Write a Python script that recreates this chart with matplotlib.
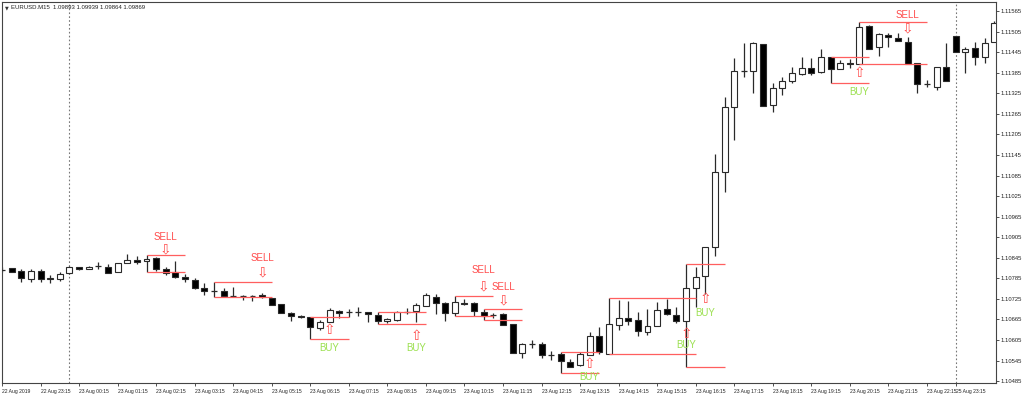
import matplotlib
matplotlib.use("Agg")
import matplotlib.pyplot as plt
from matplotlib.patches import Rectangle

plt.rcParams['font.family'] = ['Liberation Sans', 'DejaVu Sans']

# EURUSD M15 candles, 22 Aug 22:15 -> 25 Aug
opens = [1.10810, 1.10814, 1.10805, 1.10783, 1.10805, 1.10782, 1.10783, 1.10800, 1.10817, 1.10812,
         1.10820, 1.10819, 1.10803, 1.10829, 1.10838, 1.10835, 1.10844, 1.10811, 1.10803, 1.10788,
         1.10780, 1.10756, 1.10749, 1.10749, 1.10734, 1.10734, 1.10734, 1.10736, 1.10727, 1.10709,
         1.10683, 1.10676, 1.10671, 1.10641, 1.10658, 1.10690, 1.10685, 1.10686, 1.10686, 1.10677,
         1.10659, 1.10663, 1.10686, 1.10691, 1.10704, 1.10731, 1.10714, 1.10684, 1.10714, 1.10712,
         1.10688, 1.10679, 1.10680, 1.10651, 1.10568, 1.10592, 1.10592, 1.10562, 1.10563, 1.10542,
         1.10531, 1.10561, 1.10617, 1.10564, 1.10649, 1.10668, 1.10663, 1.10627, 1.10647, 1.10695,
         1.10678, 1.10661, 1.10756, 1.10793, 1.10877, 1.11096, 1.11286, 1.11390, 1.11390, 1.11470,
         1.11292, 1.11340, 1.11361, 1.11381, 1.11398, 1.11386, 1.11430, 1.11396, 1.11414, 1.11410,
         1.11521, 1.11459, 1.11495, 1.11485, 1.11475, 1.11412, 1.11352, 1.11344, 1.11403, 1.11493,
         1.11445, 1.11456, 1.11432, 1.11475]
highs = [1.10818, 1.10815, 1.10811, 1.10811, 1.10811, 1.10795, 1.10803, 1.10821, 1.10819, 1.10820,
         1.10833, 1.10827, 1.10831, 1.10856, 1.10851, 1.10853, 1.10846, 1.10819, 1.10836, 1.10798,
         1.10785, 1.10770, 1.10773, 1.10756, 1.10761, 1.10736, 1.10736, 1.10741, 1.10728, 1.10710,
         1.10688, 1.10678, 1.10673, 1.10664, 1.10698, 1.10693, 1.10696, 1.10700, 1.10687, 1.10687,
         1.10670, 1.10690, 1.10698, 1.10714, 1.10741, 1.10738, 1.10717, 1.10732, 1.10725, 1.10715,
         1.10695, 1.10683, 1.10683, 1.10651, 1.10595, 1.10606, 1.10599, 1.10574, 1.10569, 1.10550,
         1.10571, 1.10629, 1.10644, 1.10728, 1.10723, 1.10720, 1.10688, 1.10695, 1.10717, 1.10724,
         1.10702, 1.10827, 1.10819, 1.10876, 1.11147, 1.11315, 1.11427, 1.11471, 1.11475, 1.11470,
         1.11354, 1.11373, 1.11403, 1.11430, 1.11427, 1.11453, 1.11430, 1.11422, 1.11424, 1.11534,
         1.11524, 1.11502, 1.11502, 1.11502, 1.11490, 1.11412, 1.11364, 1.11401, 1.11471, 1.11493,
         1.11461, 1.11475, 1.11485, 1.11537]
lows = [1.10803, 1.10802, 1.10775, 1.10775, 1.10775, 1.10772, 1.10776, 1.10799, 1.10809, 1.10811,
        1.10813, 1.10800, 1.10803, 1.10829, 1.10827, 1.10802, 1.10807, 1.10795, 1.10785, 1.10775,
        1.10754, 1.10736, 1.10730, 1.10731, 1.10730, 1.10722, 1.10719, 1.10727, 1.10706, 1.10683,
        1.10661, 1.10670, 1.10607, 1.10634, 1.10658, 1.10668, 1.10673, 1.10676, 1.10658, 1.10652,
        1.10654, 1.10661, 1.10680, 1.10658, 1.10704, 1.10681, 1.10661, 1.10675, 1.10707, 1.10675,
        1.10663, 1.10670, 1.10648, 1.10568, 1.10552, 1.10581, 1.10552, 1.10547, 1.10510, 1.10525,
        1.10528, 1.10561, 1.10564, 1.10564, 1.10633, 1.10649, 1.10618, 1.10620, 1.10647, 1.10678,
        1.10654, 1.10527, 1.10702, 1.10739, 1.10850, 1.11038, 1.11189, 1.11372, 1.11327, 1.11289,
        1.11270, 1.11319, 1.11354, 1.11378, 1.11378, 1.11383, 1.11356, 1.11396, 1.11398, 1.11410,
        1.11454, 1.11434, 1.11459, 1.11478, 1.11410, 1.11325, 1.11344, 1.11335, 1.11361, 1.11445,
        1.11384, 1.11407, 1.11412, 1.11475]
closes = [1.10811, 1.10803, 1.10785, 1.10805, 1.10784, 1.10785, 1.10797, 1.10817, 1.10811, 1.10819,
          1.10821, 1.10801, 1.10831, 1.10838, 1.10833, 1.10841, 1.10811, 1.10800, 1.10788, 1.10784,
          1.10756, 1.10747, 1.10747, 1.10733, 1.10733, 1.10733, 1.10733, 1.10730, 1.10707, 1.10685,
          1.10675, 1.10671, 1.10642, 1.10658, 1.10693, 1.10683, 1.10687, 1.10688, 1.10680, 1.10660,
          1.10665, 1.10687, 1.10688, 1.10707, 1.10736, 1.10714, 1.10683, 1.10716, 1.10711, 1.10690,
          1.10676, 1.10677, 1.10649, 1.10568, 1.10592, 1.10594, 1.10561, 1.10560, 1.10544, 1.10527,
          1.10563, 1.10617, 1.10569, 1.10651, 1.10668, 1.10661, 1.10632, 1.10646, 1.10693, 1.10681,
          1.10660, 1.10756, 1.10790, 1.10876, 1.11094, 1.11286, 1.11391, 1.11392, 1.11473, 1.11289,
          1.11339, 1.11362, 1.11383, 1.11398, 1.11385, 1.11430, 1.11396, 1.11414, 1.11411, 1.11519,
          1.11454, 1.11498, 1.11488, 1.11478, 1.11410, 1.11351, 1.11350, 1.11401, 1.11361, 1.11445,
          1.11453, 1.11432, 1.11471, 1.11531]

# time axis labels (bar index -> text)
time_idx = [0, 4, 8, 12, 16, 20, 24, 28, 32, 36, 40, 44, 48, 52, 56, 60, 64, 68, 72, 76,
            80, 84, 88, 92, 96, 99]
time_labels = ["22 Aug 2019", "22 Aug 23:15", "23 Aug 00:15", "23 Aug 01:15", "23 Aug 02:15",
               "23 Aug 03:15", "23 Aug 04:15", "23 Aug 05:15", "23 Aug 06:15", "23 Aug 07:15",
               "23 Aug 08:15", "23 Aug 09:15", "23 Aug 10:15", "23 Aug 11:15", "23 Aug 12:15",
               "23 Aug 13:15", "23 Aug 14:15", "23 Aug 15:15", "23 Aug 16:15", "23 Aug 17:15",
               "23 Aug 18:15", "23 Aug 19:15", "23 Aug 20:15", "23 Aug 21:15", "23 Aug 22:15",
               "25 Aug 23:15"]
day_breaks = [7, 99]
price_ticks = [1.11565, 1.11505, 1.11445, 1.11385, 1.11325, 1.11265, 1.11205, 1.11145, 1.11085,
               1.11025, 1.10965, 1.10905, 1.10845, 1.10785, 1.10725, 1.10665, 1.10605, 1.10545,
               1.10485]

# signal ranges: box drawn from the signal bar's high/low to an end bar
box_start = [15, 22, 32, 39, 47, 50, 58, 63, 71, 86, 89]
box_end = [19, 28, 36, 44, 51, 54, 62, 72, 75, 90, 96]

# signal arrows and labels
sig_idx = [17, 27, 34, 43, 50, 52, 61, 71, 73, 89, 94]
sig_type = ["SELL", "SELL", "BUY", "BUY", "SELL", "SELL", "BUY", "BUY", "BUY", "BUY", "SELL"]
sig_arrow = [1.10869, 1.10802, 1.10634, 1.10618, 1.10760, 1.10720, 1.10534, 1.10623, 1.10726,
             1.11383, 1.11515]
sig_label = [1.10906, 1.10843, 1.10583, 1.10581, 1.10809, 1.10761, 1.10496, 1.10590, 1.10684,
             1.11329, 1.11553]

header = "EURUSD.M15  1.09893 1.09939 1.09864 1.09869"

red = "#ff4c4c"
green = "#9be04f"
bar_col = "#2a2a2a"

fig = plt.figure(figsize=(10.24, 3.96), dpi=100)
ax = fig.add_axes([2 / 1024, 13 / 396, 994 / 1024, 381 / 396])

w = 0.62
for i in range(len(opens)):
    o, h, l, c = opens[i], highs[i], lows[i], closes[i]
    ax.vlines(i, l, h, color=bar_col, lw=0.9, zorder=2)
    if abs(c - o) < 0.000025:
        ax.hlines((o + c) / 2, i - w / 2, i + w / 2, color=bar_col, lw=0.9, zorder=3)
    else:
        fc = "white" if c > o else "black"
        ax.add_patch(Rectangle((i - w / 2, min(o, c)), w, abs(c - o), facecolor=fc,
                               edgecolor=bar_col, lw=0.8, zorder=3))

for s, e in zip(box_start, box_end):
    ax.hlines([highs[s], lows[s]], s, e, color="#ff5f5f", lw=0.9, zorder=4)

for i, t, ay, ly in zip(sig_idx, sig_type, sig_arrow, sig_label):
    arrow = "\u21e9" if t == "SELL" else "\u21e7"
    ax.text(i, ay, arrow, color=red, fontsize=10, ha="center", va="center",
            family="DejaVu Sans", zorder=5)
    ax.text(i, ly, t, color=red if t == "SELL" else green, fontsize=7,
            ha="center", va="center", zorder=5)

for d in day_breaks:
    ax.axvline(d, color="#777777", lw=0.8, ls=(0, (1.5, 2)), zorder=1)

ax.set_xlim((2 - 1.4) / 9.64, (996 - 1.4) / 9.64)
ax.set_ylim(1.104795, 1.115913)

ax.yaxis.tick_right()
ax.set_yticks(price_ticks)
ax.set_yticklabels(["%.5f" % p for p in price_ticks], fontsize=4.2, color="#222222")
ax.set_xticks(time_idx)
ax.set_xticklabels(time_labels, fontsize=3.6, color="#222222", ha="left")
ax.tick_params(axis="y", length=2, width=0.6, pad=1.5, color="#333333")
ax.tick_params(axis="x", length=2.5, width=0.6, pad=1.5, color="#333333")
for sp in ax.spines.values():
    sp.set_color("#444444")
    sp.set_linewidth(0.8)

fig.text(5 / 1024, 1 - 7.5 / 396, "\u25bc", fontsize=3.5, color="#333333", va="center",
         family="DejaVu Sans")
fig.text(11 / 1024, 1 - 7.5 / 396, header, fontsize=4.3, color="#222222", va="center")

fig.savefig("out.png", dpi=100)
